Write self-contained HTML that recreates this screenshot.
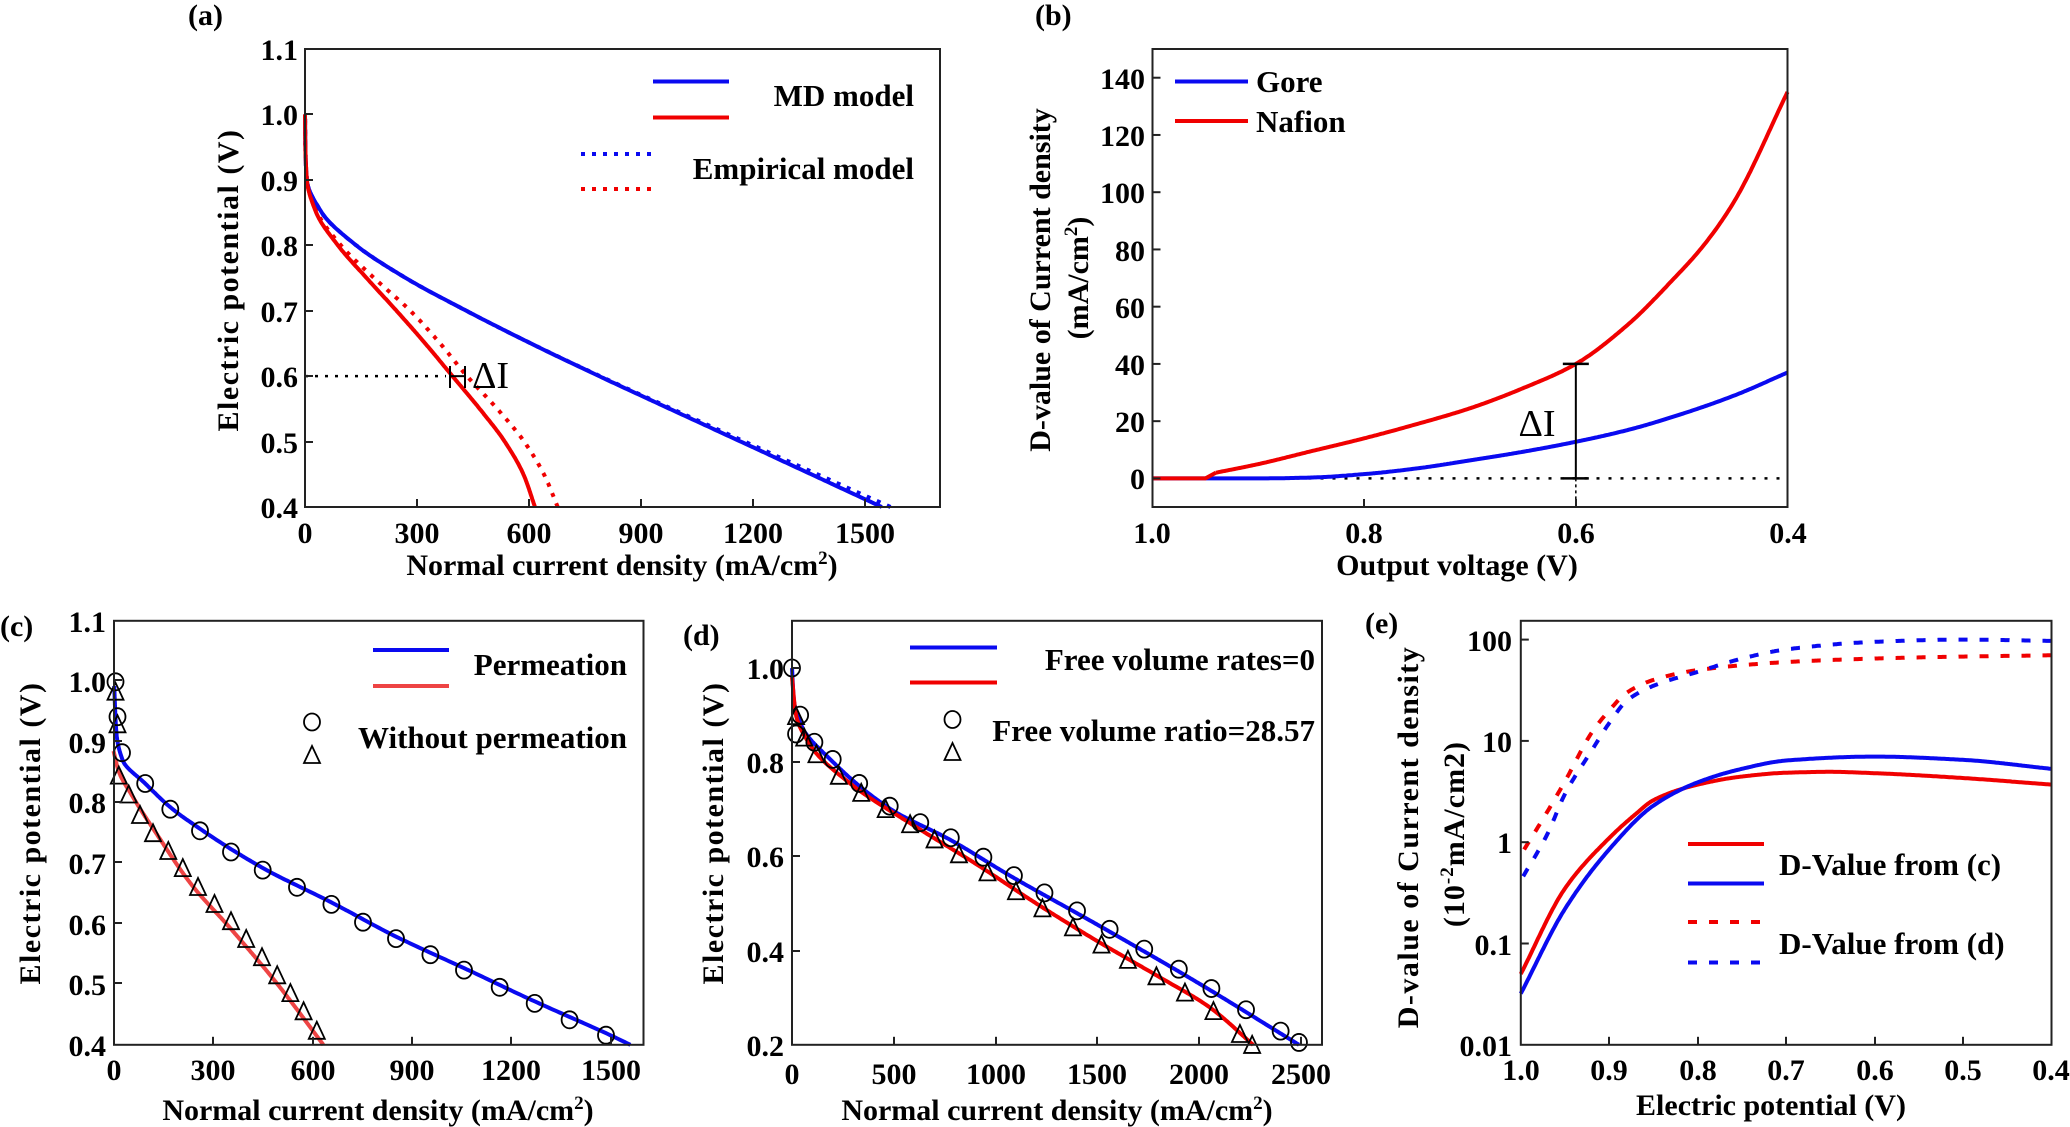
<!DOCTYPE html>
<html><head><meta charset="utf-8"><style>
html,body{margin:0;padding:0;background:#fff;}
svg{display:block;}
text{font-family:"Liberation Serif",serif;font-weight:bold;fill:#000;}
.t{font-size:30px;}
.l{font-size:30px;}
.lg{font-size:31px;}
</style></head><body>
<svg id="s" width="2070" height="1127" viewBox="0 0 2070 1127" xmlns="http://www.w3.org/2000/svg">
<g id="g"></g>
<text x="188" y="25" class="l">(a)</text>
<text x="1035" y="25" class="l">(b)</text>
<text x="0" y="636" class="l">(c)</text>
<text x="683" y="645" class="l">(d)</text>
<text x="1365" y="633" class="l">(e)</text>

<g class="t" text-anchor="end">
<text x="298" y="60">1.1</text><text x="298" y="125">1.0</text><text x="298" y="191">0.9</text>
<text x="298" y="256">0.8</text><text x="298" y="322">0.7</text><text x="298" y="387">0.6</text>
<text x="298" y="453">0.5</text><text x="298" y="518">0.4</text>
</g>
<g class="t" text-anchor="middle">
<text x="305" y="543">0</text><text x="417" y="543">300</text><text x="529" y="543">600</text>
<text x="641" y="543">900</text><text x="753" y="543">1200</text><text x="865" y="543">1500</text>
</g>
<text x="622" y="575" class="l" text-anchor="middle">Normal current density (mA/cm<tspan dy="-11" font-size="19">2</tspan><tspan dy="11">)</tspan></text>
<text transform="translate(238,280) rotate(-90)" class="l" text-anchor="middle" letter-spacing="1.5">Electric potential (V)</text>
<text x="914" y="106" class="lg" text-anchor="end">MD model</text>
<text x="914" y="179" class="lg" text-anchor="end">Empirical model</text>
<text x="472" y="388" font-size="38" style="font-weight:normal">ΔI</text>

<g class="t" text-anchor="end">
<text x="1145" y="89">140</text><text x="1145" y="146">120</text><text x="1145" y="203">100</text>
<text x="1145" y="261">80</text><text x="1145" y="318">60</text><text x="1145" y="375">40</text>
<text x="1145" y="432">20</text><text x="1145" y="489">0</text>
</g>
<g class="t" text-anchor="middle">
<text x="1152" y="543">1.0</text><text x="1364" y="543">0.8</text><text x="1576" y="543">0.6</text><text x="1788" y="543">0.4</text>
</g>
<text x="1457" y="575" class="l" text-anchor="middle">Output voltage (V)</text>
<text transform="translate(1050,280) rotate(-90)" class="l" text-anchor="middle">D-value of Current density</text>
<text transform="translate(1088,278) rotate(-90)" class="l" text-anchor="middle">(mA/cm<tspan dy="-11" font-size="19">2</tspan><tspan dy="11">)</tspan></text>
<text x="1256" y="92" class="lg">Gore</text>
<text x="1256" y="132" class="lg">Nafion</text>
<text x="1537" y="436" font-size="38" style="font-weight:normal" text-anchor="middle">ΔI</text>

<g class="t" text-anchor="end">
<text x="106" y="632">1.1</text><text x="106" y="692">1.0</text><text x="106" y="753">0.9</text>
<text x="106" y="813">0.8</text><text x="106" y="874">0.7</text><text x="106" y="935">0.6</text>
<text x="106" y="995">0.5</text><text x="106" y="1056">0.4</text>
</g>
<g class="t" text-anchor="middle">
<text x="114" y="1080">0</text><text x="213" y="1080">300</text><text x="313" y="1080">600</text>
<text x="412" y="1080">900</text><text x="511" y="1080">1200</text><text x="611" y="1080">1500</text>
</g>
<text x="378" y="1120" class="l" text-anchor="middle">Normal current density (mA/cm<tspan dy="-11" font-size="19">2</tspan><tspan dy="11">)</tspan></text>
<text transform="translate(40,833) rotate(-90)" class="l" text-anchor="middle" letter-spacing="1.5">Electric potential (V)</text>
<text x="627" y="675" class="lg" text-anchor="end">Permeation</text>
<text x="627" y="748" class="lg" text-anchor="end">Without permeation</text>

<g class="t" text-anchor="end">
<text x="784" y="679">1.0</text><text x="784" y="773">0.8</text><text x="784" y="867">0.6</text>
<text x="784" y="962">0.4</text><text x="784" y="1056">0.2</text>
</g>
<g class="t" text-anchor="middle">
<text x="792" y="1084">0</text><text x="894" y="1084">500</text><text x="996" y="1084">1000</text>
<text x="1097" y="1084">1500</text><text x="1199" y="1084">2000</text><text x="1301" y="1084">2500</text>
</g>
<text x="1057" y="1120" class="l" text-anchor="middle">Normal current density (mA/cm<tspan dy="-11" font-size="19">2</tspan><tspan dy="11">)</tspan></text>
<text transform="translate(723,833) rotate(-90)" class="l" text-anchor="middle" letter-spacing="1.5">Electric potential (V)</text>
<text x="1315" y="670" class="lg" text-anchor="end">Free volume rates=0</text>
<text x="1315" y="741" class="lg" text-anchor="end">Free volume ratio=28.57</text>

<g class="t" text-anchor="end">
<text x="1512" y="651">100</text><text x="1512" y="752">10</text><text x="1512" y="853">1</text>
<text x="1512" y="955">0.1</text><text x="1512" y="1056">0.01</text>
</g>
<g class="t" text-anchor="middle">
<text x="1521" y="1080">1.0</text><text x="1609" y="1080">0.9</text><text x="1698" y="1080">0.8</text>
<text x="1786" y="1080">0.7</text><text x="1875" y="1080">0.6</text><text x="1963" y="1080">0.5</text><text x="2051" y="1080">0.4</text>
</g>
<text x="1771" y="1115" class="l" text-anchor="middle">Electric potential (V)</text>
<text transform="translate(1418,837) rotate(-90)" class="l" text-anchor="middle" letter-spacing="1.5">D-value of Current density</text>
<text transform="translate(1464,834) rotate(-90)" class="l" text-anchor="middle" letter-spacing="1">(10<tspan dy="-11" font-size="19">-2</tspan><tspan dy="11">mA/cm2)</tspan></text>
<text x="1779" y="875" class="lg">D-Value from (c)</text>
<text x="1779" y="954" class="lg">D-Value from (d)</text>
</svg>
<script>
var g=document.getElementById('g');var NS='http://www.w3.org/2000/svg';
function el(t,a){var e=document.createElementNS(NS,t);for(var k in a)e.setAttribute(k,a[k]);g.appendChild(e);return e;}
function mono(pts){pts=pts.slice().sort(function(a,b){return a[0]-b[0];});var n=pts.length,x=pts.map(function(p){return p[0];}),y=pts.map(function(p){return p[1];});
var d=[],m=[];for(var i=0;i<n-1;i++)d.push((y[i+1]-y[i])/(x[i+1]-x[i]));
m[0]=d[0];m[n-1]=d[n-2];for(i=1;i<n-1;i++){if(d[i-1]*d[i]<=0)m[i]=0;else{var w1=2*(x[i+1]-x[i])+(x[i]-x[i-1]),w2=(x[i+1]-x[i])+2*(x[i]-x[i-1]);m[i]=(w1+w2)/(w1/d[i-1]+w2/d[i]);}}
return {lo:x[0],hi:x[n-1],f:function(t){var i=0;while(i<n-2&&t>x[i+1])i++;var h=x[i+1]-x[i],s=(t-x[i])/h;var h00=2*s*s*s-3*s*s+1,h10=s*s*s-2*s*s+s,h01=-2*s*s*s+3*s*s,h11=s*s*s-s*s;return h00*y[i]+h10*h*m[i]+h01*y[i+1]+h11*h*m[i+1];}};}
function curve(pts,X,Y,swap,col,w,dash){var M=mono(pts),N=400,d='';for(var k=0;k<=N;k++){var t=M.lo+(M.hi-M.lo)*k/N,v=M.f(t);var px=swap?X(v):X(t),py=swap?Y(t):Y(v);d+=(k?'L':'M')+px.toFixed(1)+','+py.toFixed(1);}
var a={d:d,fill:'none',stroke:col,'stroke-width':w||4,'stroke-linejoin':'round'};if(dash)a['stroke-dasharray']=dash;el('path',a);return M;}
function box(x1,y1,x2,y2){el('rect',{x:x1,y:y1,width:x2-x1,height:y2-y1,fill:'none',stroke:'#222','stroke-width':2});}
function xt(xs,y){xs.forEach(function(x){el('line',{x1:x,y1:y,x2:x,y2:y-8,stroke:'#222','stroke-width':2});});}
function yt(ys,x){ys.forEach(function(y){el('line',{x1:x,y1:y,x2:x+8,y2:y,stroke:'#222','stroke-width':2});});}
var B='#0a0af0',R='#f00000';
function circ(x,y){el('ellipse',{cx:x,cy:y,rx:8,ry:8.5,fill:'none',stroke:'#000','stroke-width':1.8});}
function tri(x,y){el('path',{d:'M'+x+','+(y-10)+' L'+(x-8)+','+(y+7)+' L'+(x+8)+','+(y+7)+'Z',fill:'none',stroke:'#000','stroke-width':1.8});}
function sw(a){return a.map(function(q){return [q[1],q[0]];});}

// (a)
var AX=function(i){return 305+i/300*112;},AY=function(v){return 49+(1.1-v)/0.1*65.43;};
var blueA=[[0,1.0],[1,0.95],[5,0.9],[45,0.85],[137,0.8],[270,0.75],[432,0.7],[605,0.65],[788,0.6],[977,0.55],[1167,0.5],[1356,0.45],[1545,0.4]];
var blueAd=blueA.map(function(q,i){return [q[0]*(i>7?1+(i-7)*0.003:1),q[1]];});
var redA=[[0,1],[1,0.95],[5,0.9],[30,0.85],[88,0.8],[165,0.75],[245,0.7],[322,0.65],[395,0.6],[468,0.55],[535,0.5],[585,0.45],[616,0.4]];
var redAd=[[0,1],[1,0.95],[5,0.9],[33,0.85],[96,0.8],[185,0.75],[282,0.7],[362,0.65],[434,0.6],[515,0.55],[587,0.5],[640,0.45],[677,0.4]];
curve(sw(blueAd),AX,AY,true,B,4,'4,7');curve(sw(redAd),AX,AY,true,R,4,'4,7');
curve(sw(blueA),AX,AY,true,B,4);curve(sw(redA),AX,AY,true,R,4);
el('line',{x1:305,y1:AY(0.6),x2:446,y2:AY(0.6),stroke:'#000','stroke-width':2.5,'stroke-dasharray':'3,7'});
el('line',{x1:450,y1:AY(0.6),x2:465,y2:AY(0.6),stroke:'#000','stroke-width':2});
el('line',{x1:450,y1:366,x2:450,y2:388,stroke:'#000','stroke-width':2});
el('line',{x1:465,y1:366,x2:465,y2:388,stroke:'#000','stroke-width':2});
box(305,49,940,507);xt([417,529,641,753,865],507);yt([114,180,245,311,376,442],305);
el('line',{x1:653,y1:81.5,x2:729,y2:81.5,stroke:B,'stroke-width':4});
el('line',{x1:653,y1:117.5,x2:729,y2:117.5,stroke:R,'stroke-width':4});
el('line',{x1:581,y1:154,x2:653,y2:154,stroke:B,'stroke-width':4,'stroke-dasharray':'4,7'});
el('line',{x1:581,y1:189,x2:653,y2:189,stroke:R,'stroke-width':4,'stroke-dasharray':'4,7'});

// (b)
var BX=function(v){return 1152.5+(1-v)/0.6*635;},BY=function(d){return 478.4-d/20*57.24;};
el('line',{x1:1152.5,y1:BY(0),x2:1787,y2:BY(0),stroke:'#000','stroke-width':2.5,'stroke-dasharray':'3,9'});
el('line',{x1:BX(0.6),y1:BY(0),x2:BX(0.6),y2:507,stroke:'#000','stroke-width':1.5,'stroke-dasharray':'3,3'});
var gore=[[1,0],[0.9,0],[0.85,0.3],[0.8,1.5],[0.75,3.5],[0.7,6.3],[0.65,9.3],[0.6,12.8],[0.55,17],[0.5,22.5],[0.45,29],[0.4,37]];
var naf=[[0.94,2],[0.9,5],[0.85,9.5],[0.8,14],[0.75,19],[0.7,24.5],[0.65,31.5],[0.6,40],[0.55,54],[0.512,68],[0.478,82],[0.45,97],[0.4,135]];
curve(gore,BX,BY,false,B,4);
el('path',{d:'M'+BX(1)+','+BY(0)+' L'+BX(0.95)+','+BY(0)+' L'+BX(0.94)+','+BY(2),fill:'none',stroke:R,'stroke-width':4});
curve(naf,BX,BY,false,R,4);
el('line',{x1:BX(0.6),y1:BY(0),x2:BX(0.6),y2:BY(40),stroke:'#000','stroke-width':2});
el('line',{x1:BX(0.6)-13,y1:BY(40),x2:BX(0.6)+13,y2:BY(40),stroke:'#000','stroke-width':2.5});
el('line',{x1:BX(0.6)-13,y1:BY(0),x2:BX(0.6)+13,y2:BY(0),stroke:'#000','stroke-width':2.5});
box(1152.5,49,1787.5,507);xt([1364,1576],507);yt([BY(0),BY(20),BY(40),BY(60),BY(80),BY(100),BY(120),BY(140)],1152.5);
el('line',{x1:1175,y1:81.5,x2:1248,y2:81.5,stroke:B,'stroke-width':4});
el('line',{x1:1175,y1:121,x2:1248,y2:121,stroke:R,'stroke-width':4});

// (c)
var ID=function(v){return v;};
var circC=[[115.5,681.8],[117.5,716.7],[122,752.7],[145.2,783.5],[170.3,809.2],[200,830.8],[231,852],[262.7,870.1],[297,887.3],[331.4,904.4],[363,922.2],[396,938.6],[430.4,954.7],[464,970.1],[499.7,987.3],[534.7,1003.4],[569.6,1019.8],[606,1035.2]];
var triC=[[115.5,692.7],[117.5,725.3],[118.8,776.6],[128.7,795.5],[140,816],[153,834.2],[168.3,852],[182.8,869.1],[198,888],[214.5,905],[231,922.2],[246.2,940],[262,958.2],[277.2,976.3],[290.4,994.1],[303.6,1012.3],[316.8,1031.8]];
var blueC=[[114.2,686],[116.5,733.8],[123,761],[145.2,783.5],[170.3,807.2],[200,828.8],[263,868.1],[331.4,902.4],[396,936.6],[464,968.1],[534.7,1001.4],[606,1033.2],[630.4,1044.8]];
var redC=[[113.5,751],[118.8,771.5],[132,795.5],[158.4,836.6],[191.4,884.5],[231,929],[277.2,983.8],[323.4,1044.8]];
curve(sw(blueC),ID,ID,true,B,4);curve(sw(redC),ID,ID,true,'#ee4444',4);
circC.forEach(function(p){circ(p[0],p[1]);});triC.forEach(function(p){tri(p[0],p[1]);});
box(114,620.8,643.5,1044.8);xt([213,313,412,511,611],1044.8);yt([680,741,802,862,923,983],114);
el('line',{x1:373,y1:650,x2:449,y2:650,stroke:B,'stroke-width':4});
el('line',{x1:373,y1:686,x2:449,y2:686,stroke:'#ee4444','stroke-width':4});
circ(312,722);tri(312,756);

// (d)
var DX=function(i){return 792+i/500*101.8;},DY=function(v){return 1044.8-(v-0.2)/0.2*94.2;};
var blueD=[[0,1.0],[10,0.93],[49,0.875],[195,0.803],[486,0.70],[778,0.635],[1071,0.559],[1500,0.455],[2000,0.33],[2490,0.2]];
var redD=[[0,0.98],[20,0.9],[100,0.83],[300,0.75],[600,0.665],[900,0.585],[1200,0.5],[1500,0.42],[1800,0.345],[2050,0.28],[2265,0.2]];
curve(sw(blueD),DX,DY,true,B,4);curve(sw(redD),DX,DY,true,R,4);
var fb=mono(blueD),fr=mono(redD);
[110,200,330,480,630,780,940,1090,1240,1400,1560,1730,1900,2060,2230,2400,2490].forEach(function(i){circ(DX(i),DY(fb.f(i)+0.005));});
circ(DX(0),DY(1.0));circ(DX(20),DY(0.86));circ(DX(40),DY(0.9));
[20,60,120,230,340,460,580,700,820,960,1100,1230,1380,1520,1650,1790,1930,2070,2200,2260].forEach(function(i){tri(DX(i),DY(fr.f(i))+2);});
box(792,620.8,1322,1044.8);xt([894,996,1097,1199,1301],1044.8);yt([668,762,856,951],792);
el('line',{x1:910,y1:647.5,x2:997,y2:647.5,stroke:B,'stroke-width':4});
el('line',{x1:910,y1:682.5,x2:997,y2:682.5,stroke:R,'stroke-width':4});
circ(952.5,719.5);tri(952.5,753);

// (e)
var EX=function(v){return 1520.8+(1-v)/0.1*88.45;},EY=function(x){return 1044.8-(x+2)*101.3;};
function lg(a){return a.map(function(q){return [q[0],Math.log10(q[1])];});}
var rs=[[1.0,0.05],[0.95,0.35],[0.9,1.1],[0.87,1.9],[0.85,2.6],[0.8,3.7],[0.75,4.45],[0.7,4.85],[0.65,4.95],[0.6,4.8],[0.5,4.3],[0.4,3.7]];
var bs=[[1.0,0.032],[0.95,0.22],[0.9,0.85],[0.85,2.3],[0.8,3.9],[0.75,5.3],[0.7,6.4],[0.6,7.0],[0.5,6.5],[0.4,5.3]];
var rd=[[1.0,0.75],[0.97,2],[0.95,4],[0.92,12],[0.9,20],[0.88,30],[0.85,40],[0.8,50],[0.7,60],[0.6,65],[0.5,68],[0.4,70]];
var bd=[[1.0,0.42],[0.97,1.2],[0.95,3],[0.92,8],[0.9,15],[0.88,25],[0.85,35],[0.8,48],[0.75,65],[0.7,80],[0.6,95],[0.5,100],[0.4,97]];
curve(lg(rd),EX,EY,false,R,4,'9,12');curve(lg(bd),EX,EY,false,B,4,'9,12');
curve(lg(rs),EX,EY,false,R,4);curve(lg(bs),EX,EY,false,B,4);
box(1520.8,620.8,2051.5,1044.8);xt([1609,1698,1786,1875,1963],1044.8);yt([EY(-1),EY(0),EY(1),EY(2)],1520.8);
el('line',{x1:1688,y1:844,x2:1764,y2:844,stroke:R,'stroke-width':4});
el('line',{x1:1688,y1:883.5,x2:1764,y2:883.5,stroke:B,'stroke-width':4});
el('line',{x1:1688,y1:922,x2:1760,y2:922,stroke:R,'stroke-width':4,'stroke-dasharray':'9,12'});
el('line',{x1:1688,y1:962.5,x2:1760,y2:962.5,stroke:B,'stroke-width':4,'stroke-dasharray':'9,12'});
</script>
</body></html>
